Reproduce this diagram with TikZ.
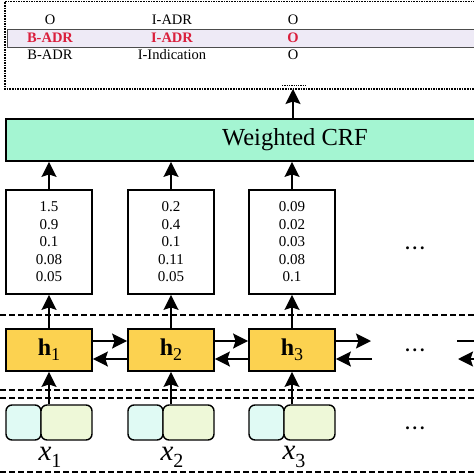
\documentclass[tikz,border=0pt]{standalone}
\usepackage{fontspec}
\setmainfont{Liberation Serif}
\usetikzlibrary{arrows.meta}
\definecolor{crfgreen}{RGB}{164,245,210}
\definecolor{hgold}{RGB}{252,210,80}
\definecolor{embcyan}{RGB}{224,250,244}
\definecolor{embgreen}{RGB}{238,248,216}
\definecolor{tagred}{RGB}{218,30,60}
\definecolor{bandlav}{RGB}{238,234,246}

\begin{document}
\begin{tikzpicture}[x=1pt,y=-1pt,
  box/.style={draw,line width=1.8pt,inner sep=0pt},
  score/.style={box,minimum width=86pt,minimum height=104pt,align=center,font=\fontsize{15}{17.5}\selectfont},
  hid/.style={box,fill=hgold,minimum width=86pt,minimum height=42pt,font=\fontsize{24}{26}\selectfont},
  embA/.style={draw,line width=1.4pt,rounded corners=6pt,fill=embcyan,minimum width=35pt,minimum height=35pt,inner sep=0pt},
  embB/.style={draw,line width=1.4pt,rounded corners=6pt,fill=embgreen,minimum width=51pt,minimum height=35pt,inner sep=0pt},
  tag/.style={font=\fontsize{14.5}{16}\selectfont},
  redtag/.style={text=tagred,font=\fontsize{14.5}{16}\selectfont\bfseries},
  word/.style={font=\fontsize{29}{30}\selectfont},
  dots/.style={font=\fontsize{18}{18}\selectfont\bfseries},
  arr/.style={-{Stealth[width=15pt,length=15pt,inset=2.5pt]},line width=1.7pt},
  sep/.style={line width=1.6pt,dash pattern=on 6pt off 3pt}]
\useasboundingbox (0,0) rectangle (474,474);
\clip (0,0) rectangle (474,474);

% output tags
\fill[bandlav] (7,29) rectangle (480,47);
\draw[gray!60!black,line width=1pt] (480,29) -- (7,29) -- (7,47) -- (480,47);
\draw[line width=1.6pt,densely dotted] (480,1.5) -| (5,89) -- (480,89);
\draw[line width=1.3pt,densely dotted] (282,85.5) -- (307,85.5);
\node[tag] (t11) at (50,20) {O};
\node[tag] (t12) at (172,20) {I-ADR};
\node[tag] (t13) at (293,20) {O};
\node[redtag] (t21) at (50,38) {B-ADR};
\node[redtag] (t22) at (172,38) {I-ADR};
\node[redtag] (t23) at (293,38) {O};
\node[tag] (t31) at (50,55) {B-ADR};
\node[tag] (t32) at (172,55) {I-Indication};
\node[tag] (t33) at (293,55) {O};
\coordinate (out3) at (293,89);

% CRF layer
\node[box,fill=crfgreen,minimum width=578pt,minimum height=42pt,font=\fontsize{24.5}{26}\selectfont] (crf) at (295,140) {Weighted CRF};

% emission scores
\node[score] (s1) at (49,242) {1.5\\0.9\\0.1\\0.08\\0.05};
\node[score] (s2) at (171,242) {0.2\\0.4\\0.1\\0.11\\0.05};
\node[score] (s3) at (292,242) {0.09\\0.02\\0.03\\0.08\\0.1};
\node[dots] (sd) at (415,248) {.\,.\,.};

% BiLSTM layer
\node[hid] (h1) at (49,350) {\textbf{h}\raisebox{-0.2em}{\fontsize{18}{18}\selectfont 1}};
\node[hid] (h2) at (171,350) {\textbf{h}\raisebox{-0.2em}{\fontsize{18}{18}\selectfont 2}};
\node[hid] (h3) at (292,350) {\textbf{h}\raisebox{-0.2em}{\fontsize{18}{18}\selectfont 3}};
\node[dots] (hd) at (415,350) {.\,.\,.};
\coordinate (fw3) at (371,341);
\coordinate (bw3) at (372,359);
\coordinate (fwn) at (457,341);
\coordinate (bwn) at (458,359);

% embeddings
\node[embA] (e1a) at (23.5,422.5) {};
\node[embB] (e1b) at (66.5,422.5) {};
\node[embA] (e2a) at (145.5,422.5) {};
\node[embB] (e2b) at (188.5,422.5) {};
\node[embA] (e3a) at (266.5,422.5) {};
\node[embB] (e3b) at (309.5,422.5) {};
\node[dots] (ed) at (415,428) {.\,.\,.};
\node[word] (x1) at (50,457) {\textit{x}\raisebox{-0.25em}{\fontsize{20}{20}\selectfont 1}};
\node[word] (x2) at (172,457) {\textit{x}\raisebox{-0.25em}{\fontsize{20}{20}\selectfont 2}};
\node[word] (x3) at (294,457) {\textit{x}\raisebox{-0.25em}{\fontsize{20}{20}\selectfont 3}};

% separators
\draw[sep] (0,315) -- (480,315);
\draw[sep] (0,390) -- (480,390);
\draw[sep] (0,398) -- (480,398);
\draw[sep] (0,472) -- (480,472);

% connectors
\draw[arr] (crf.north -| out3) -- (out3);
\draw[arr] (s1.north) -- (s1.north |- crf.south);
\draw[arr] (s2.north) -- (s2.north |- crf.south);
\draw[arr] (s3.north) -- (s3.north |- crf.south);
\draw[arr] (h1.north) -- (s1.south);
\draw[arr] (h2.north) -- (s2.south);
\draw[arr] (h3.north) -- (s3.south);
\draw[arr] (h1.south |- e1b.north) -- (h1.south);
\draw[arr] (h2.south |- e2b.north) -- (h2.south);
\draw[arr] (h3.south |- e3b.north) -- (h3.south);
\draw[arr] ([yshift=9pt]h1.east) -- ([yshift=9pt]h2.west);
\draw[arr] ([yshift=-9pt]h2.west) -- ([yshift=-9pt]h1.east);
\draw[arr] ([yshift=9pt]h2.east) -- ([yshift=9pt]h3.west);
\draw[arr] ([yshift=-9pt]h3.west) -- ([yshift=-9pt]h2.east);
\draw[arr] ([yshift=9pt]h3.east) -- (fw3);
\draw[arr] (bw3) -- ([yshift=-9pt]h3.east);
\draw[line width=1.7pt] (fwn) -- (480,341);
\draw[arr] (480,359) -- (bwn);
\end{tikzpicture}
\end{document}
